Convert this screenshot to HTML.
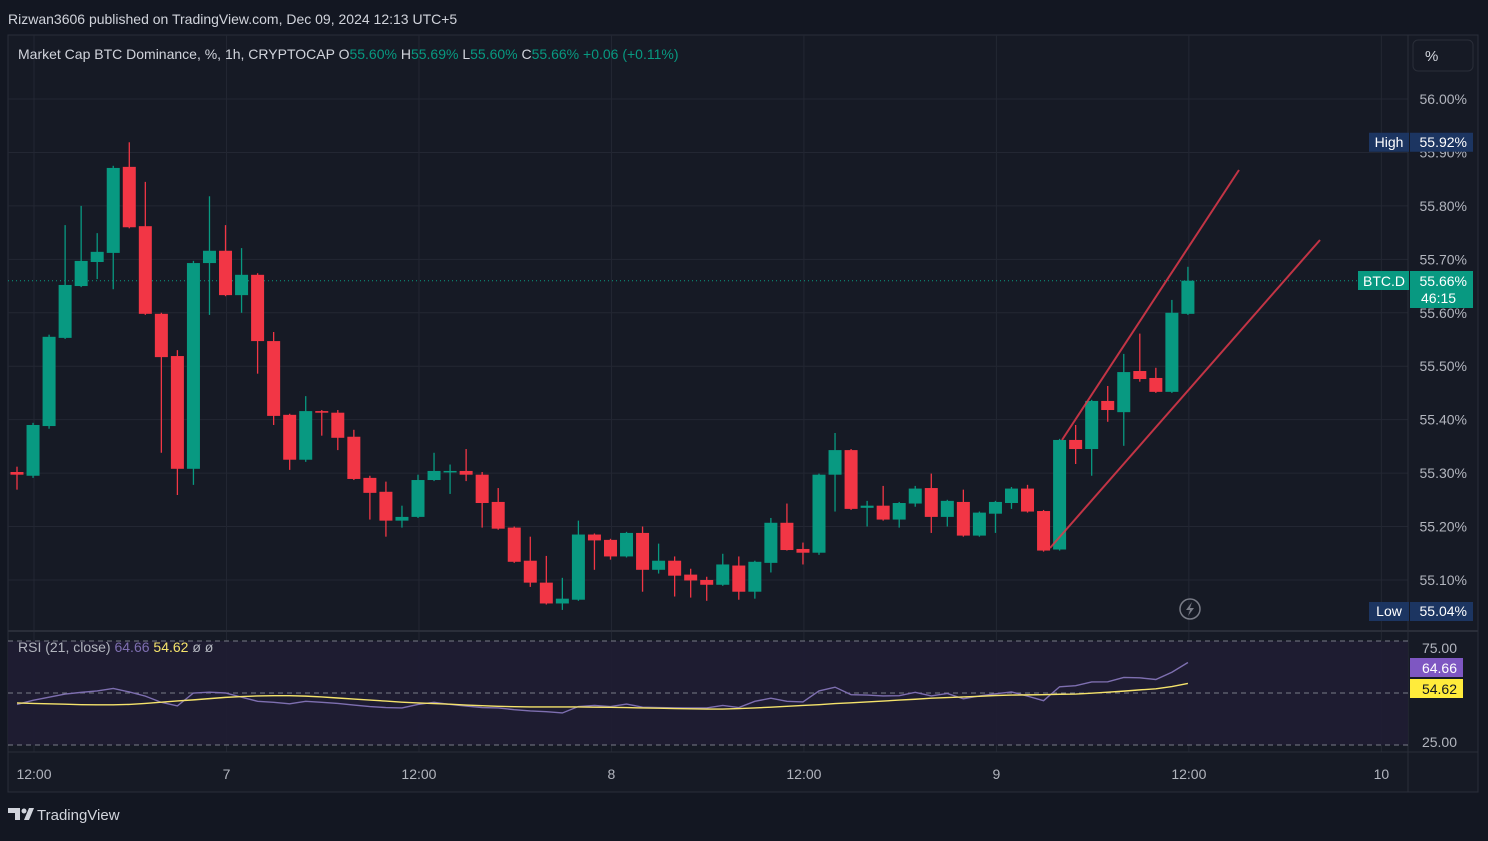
<!DOCTYPE html>
<html><head><meta charset="utf-8">
<style>
body{margin:0;background:#131722;width:1488px;height:836px;overflow:hidden;font-family:"Liberation Sans",sans-serif;}
svg text{font-family:"Liberation Sans",sans-serif;}
</style></head>
<body>
<svg id="chart" width="1488" height="836" xmlns="http://www.w3.org/2000/svg"></svg>
<script>
const opens=[55.302,55.295,55.388,55.553,55.650,55.695,55.712,55.873,55.762,55.598,55.519,55.308,55.693,55.716,55.633,55.671,55.547,55.409,55.325,55.416,55.413,55.368,55.291,55.265,55.211,55.218,55.287,55.303,55.304,55.297,55.246,55.198,55.136,55.095,55.056,55.063,55.185,55.175,55.144,55.188,55.119,55.136,55.110,55.100,55.091,55.127,55.078,55.132,55.207,55.158,55.151,55.297,55.343,55.235,55.239,55.213,55.243,55.272,55.218,55.246,55.183,55.224,55.244,55.271,55.229,55.157,55.362,55.345,55.435,55.414,55.491,55.478,55.452,55.598];
const highs=[55.312,55.394,55.559,55.764,55.800,55.749,55.875,55.919,55.845,55.600,55.530,55.697,55.818,55.764,55.721,55.674,55.564,55.411,55.444,55.418,55.418,55.381,55.295,55.284,55.239,55.297,55.338,55.316,55.345,55.302,55.272,55.200,55.181,55.145,55.104,55.211,55.187,55.177,55.190,55.200,55.168,55.144,55.121,55.106,55.149,55.144,55.136,55.216,55.243,55.170,55.299,55.375,55.345,55.248,55.276,55.246,55.276,55.299,55.250,55.269,55.228,55.248,55.274,55.278,55.231,55.364,55.390,55.437,55.463,55.523,55.561,55.497,55.624,55.686];
const lows=[55.269,55.291,55.383,55.551,55.648,55.663,55.644,55.758,55.596,55.338,55.259,55.278,55.596,55.631,55.600,55.486,55.390,55.306,55.321,55.370,55.343,55.287,55.213,55.181,55.198,55.216,55.285,55.261,55.285,55.198,55.194,55.132,55.087,55.054,55.044,55.061,55.119,55.138,55.142,55.078,55.112,55.069,55.067,55.061,55.089,55.063,55.065,55.114,55.155,55.129,55.147,55.228,55.231,55.200,55.211,55.198,55.237,55.188,55.200,55.181,55.181,55.188,55.233,55.226,55.153,55.155,55.317,55.295,55.396,55.351,55.471,55.450,55.450,55.596];
const closes=[55.297,55.390,55.555,55.652,55.697,55.714,55.871,55.760,55.598,55.517,55.308,55.693,55.716,55.633,55.671,55.547,55.407,55.325,55.416,55.413,55.366,55.289,55.263,55.211,55.218,55.287,55.304,55.304,55.297,55.244,55.196,55.134,55.095,55.056,55.065,55.185,55.174,55.144,55.188,55.119,55.136,55.108,55.099,55.091,55.129,55.078,55.134,55.207,55.156,55.151,55.297,55.343,55.233,55.239,55.213,55.244,55.271,55.218,55.248,55.183,55.226,55.246,55.271,55.228,55.155,55.362,55.345,55.435,55.418,55.489,55.476,55.452,55.600,55.660];
const rsi=[44.5,46.5,48,49.5,50.3,51,52.2,50.5,48.5,45.5,43.8,50,50.4,50,48,46,45.5,44.8,46,45.5,45,44.2,43.5,43,42.8,44.5,45.5,44.5,43.7,43,42.8,42,41.4,41,40.4,43.5,44,43.5,44.7,43.2,43,42.9,42.8,42.8,44,43,46,47.5,46,45.7,51,52.8,49.2,49,48.6,48.7,50.3,48.6,49.8,47.2,48.6,49.6,50.5,48.5,46.3,53,53.5,55.3,55.4,57.5,57.3,56.5,60,64.66];
const rsiMa=[45.2,45,44.8,44.6,44.4,44.3,44.3,44.5,45,45.6,46.2,46.7,47.3,47.9,48.3,48.6,48.7,48.7,48.5,48.1,47.6,47.1,46.6,46.1,45.6,45.2,44.9,44.6,44.2,43.9,43.6,43.4,43.3,43.3,43.3,43.3,43.2,43.1,43,42.8,42.7,42.5,42.4,42.3,42.3,42.5,42.8,43.2,43.6,44,44.4,44.9,45.3,45.7,46.1,46.6,47,47.5,47.8,48.1,48.4,48.8,49,49.1,49.2,49.4,49.5,49.9,50.4,50.9,51.5,52,53.1,54.62];
const priceTicks=[56.00,55.90,55.80,55.70,55.60,55.50,55.40,55.30,55.20,55.10];
const timeLabels=["12:00","7","12:00","8","12:00","9","12:00","10"];
const timeSlots=[1,13,25,37,49,61,73,85];

const svg=document.getElementById('chart');
const NS='http://www.w3.org/2000/svg';
function el(tag,attrs,parent){const e=document.createElementNS(NS,tag);for(const k in attrs)e.setAttribute(k,attrs[k]);(parent||svg).appendChild(e);return e;}
function txt(s,attrs,parent){const t=el('text',attrs,parent);t.textContent=s;return t;}
const X=i=>17+16.04*(i); // hourly slot -> px
const Y=p=>99+(56-p)*534.4;
const RY=v=>693-(v-50)*2.08;

// panel backgrounds
let r=el('rect',{x:8,y:35,width:1470,height:757,fill:'#161a25',stroke:'#2a2e39'});

// header
let h=txt('Rizwan3606 published on TradingView.com, Dec 09, 2024 12:13 UTC+5',{x:8,y:24,fill:'#d1d4dc','font-size':14});


// grid
const grid=el('g',{stroke:'#232733','stroke-width':1});

priceTicks.forEach(p=>el('line',{x1:8,x2:1408,y1:Y(p),y2:Y(p)},grid));
timeSlots.forEach(s=>el('line',{x1:X(s-1)+17,x2:X(s-1)+17,y1:35,y2:752},grid));
el('line',{x1:1408,x2:1408,y1:35,y2:792,stroke:'#2a2e39'});
el('line',{x1:8,x2:1478,y1:752,y2:752,stroke:'#2a2e39'});
el('line',{x1:8,x2:1478,y1:631,y2:631,stroke:'#2a2e39','stroke-width':2});

// price labels
priceTicks.forEach(p=>{const t=txt(p.toFixed(2)+'%',{x:1467,y:Y(p)+5,fill:'#b2b5be','font-size':14,'text-anchor':'end'});
});
// time labels
timeLabels.forEach((l,k)=>{const t=txt(l,{x:X(timeSlots[k]-1)+17,y:779,fill:'#b2b5be','font-size':14,'text-anchor':'middle'});
});

// current price line
let cl=el('line',{x1:8,x2:1408,y1:Y(closes[closes.length-1]),y2:Y(closes[closes.length-1]),stroke:'#089981','stroke-dasharray':'1 3'});


// candles
const cg=el('g',{});

opens.forEach((o,i)=>{
 const c=closes[i],col=c>=o?'#089981':'#f23645',x=X(i);
 const g=el('g',{},cg);
 
 
 el('line',{x1:x,x2:x,y1:Y(highs[i]),y2:Y(lows[i]),stroke:col,'stroke-width':1.3},g);
 const top=Y(Math.max(o,c)),bh=Math.max(1.5,Math.abs(Y(o)-Y(c)));
 el('rect',{x:x-6.5,y:top,width:13,height:bh,fill:col},g);
});

// trend lines (channel)
let t1=el('line',{x1:1062,y1:440,x2:1239,y2:170,stroke:'#e0394b','stroke-width':2,opacity:0.85});

let t2=el('line',{x1:1050,y1:548,x2:1320,y2:240,stroke:'#e0394b','stroke-width':2,opacity:0.85});


// legend
let lg=txt('',{x:18,y:59,'font-size':14,fill:'#d1d4dc'});

lg.innerHTML='Market Cap BTC Dominance, %, 1h, CRYPTOCAP  <tspan fill="#d1d4dc">O</tspan><tspan fill="#089981">55.60%</tspan> <tspan fill="#d1d4dc">H</tspan><tspan fill="#089981">55.69%</tspan> <tspan fill="#d1d4dc">L</tspan><tspan fill="#089981">55.60%</tspan> <tspan fill="#d1d4dc">C</tspan><tspan fill="#089981">55.66%</tspan> <tspan fill="#089981">+0.06 (+0.11%)</tspan>';
lg.setAttribute('xml:space','preserve');

// % button
let pb=el('rect',{x:1413,y:40,width:60,height:31,rx:5,fill:'#161a25',stroke:'#2a2e39'});

txt('%',{x:1425,y:61,fill:'#d1d4dc','font-size':15});

// high / low / current labels
function tag(label,val,y,bg,name){
 const g=el('g',{});
 el('rect',{x:1369,y:y,width:40,height:19,fill:bg},g);
 txt(label,{x:1389,y:y+14,fill:'#fff','font-size':14,'text-anchor':'middle'},g);
 el('rect',{x:1410,y:y,width:63,height:19,fill:bg},g);
 txt(val,{x:1467,y:y+14,fill:'#fff','font-size':14,'text-anchor':'end'},g);
}
tag('High','55.92%',Y(55.92)-9,'#1c3561','high-label');
tag('Low','55.04%',602,'#1c3561','low-label');
const cg2=el('g',{});
el('rect',{x:1358,y:271,width:51,height:19,fill:'#089981'},cg2);
txt('BTC.D',{x:1384,y:286,fill:'#fff','font-size':14,'text-anchor':'middle'},cg2);
el('rect',{x:1410,y:271,width:63,height:37,fill:'#089981'},cg2);
txt('55.66%',{x:1467,y:286,fill:'#fff','font-size':14,'text-anchor':'end'},cg2);
txt('46:15',{x:1421,y:303,fill:'#fff','font-size':14},cg2);

// lightning icon
const li=el('g',{});
el('circle',{cx:1190,cy:609,r:10,fill:'none',stroke:'#787b86','stroke-width':1.5},li);
el('path',{d:'M1192 602 L1186 610 L1190 610 L1188 616 L1194 608 L1190 608 Z',fill:'#787b86'},li);

// RSI pane
const rg=el('g',{});
el('rect',{x:8,y:RY(75),width:1400,height:RY(25)-RY(75),fill:'#1f1d33',opacity:0.9},rg);
[75,50,25].forEach(v=>el('line',{x1:8,x2:1408,y1:RY(v),y2:RY(v),stroke:'#787b86','stroke-dasharray':'5 4','stroke-width':1},rg));
let rl=txt('',{x:18,y:652,'font-size':14,fill:'#b2b5be'});

rl.setAttribute('xml:space','preserve');
rl.innerHTML='RSI (21, close)  <tspan fill="#7e6fb0">64.66</tspan>  <tspan fill="#f5e36b">54.62</tspan>  ø  ø';
let rp=el('polyline',{fill:'none',stroke:'#7e6fb0','stroke-width':1.4,points:rsi.map((v,i)=>X(i)+','+RY(v)).join(' ')});

let mp=el('polyline',{fill:'none',stroke:'#f5e36b','stroke-width':1.4,points:rsiMa.map((v,i)=>X(i)+','+RY(v)).join(' ')});

[['75.00',648],['25.00',742]].forEach(a=>{const t=txt(a[0],{x:1457,y:a[1]+5,fill:'#b2b5be','font-size':14,'text-anchor':'end'});});
const rb=el('g',{});
el('rect',{x:1410,y:658,width:53,height:19,fill:'#7e57c2'},rb);
txt(rsi[rsi.length-1].toFixed(2),{x:1457,y:673,fill:'#fff','font-size':14,'text-anchor':'end'},rb);
el('rect',{x:1410,y:679,width:53,height:19,fill:'#ffeb3b'},rb);
txt(rsiMa[rsiMa.length-1].toFixed(2),{x:1457,y:694,fill:'#131722','font-size':14,'text-anchor':'end'},rb);

// footer logo
const fl=el('g',{});
el('path',{d:'M8 808 h12 v12 h-5 v-7 h-7 Z M24 820 l5 -12 h5 l-5 12 Z',fill:'#d1d4dc'},fl);
el('circle',{cx:24,cy:811,r:2.5,fill:'#d1d4dc'},fl);
txt('TradingView',{x:37,y:820,fill:'#d1d4dc','font-size':15},fl);
</script>
</body></html>
